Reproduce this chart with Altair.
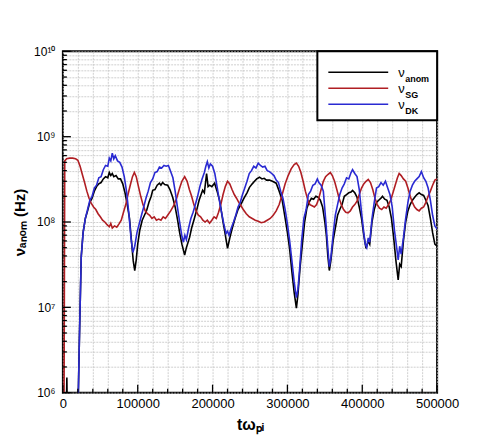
import altair as alt
import pandas as pd

FONT = "Liberation Sans"

# (t*omega_pi, nu) readings for each series
ANOM = [
    (4500, 5e5), (5300, 1.5e6), (6000, 5e5), (20000, 5e5), (22000, 4e6), (24500, 3.9e7),
    (27000, 7.5e7), (30000, 1.1e8), (33000, 1.35e8), (36000, 1.7e8), (39000, 1.9e8),
    (42000, 2.3e8), (45000, 2.6e8), (48000, 2.8e8), (51000, 2.9e8), (54000, 3.2e8),
    (57000, 3.4e8), (60000, 3.3e8), (62000, 3.8e8), (64000, 3.5e8), (66000, 3.7e8),
    (68000, 3.4e8), (71000, 3.5e8), (74000, 3.2e8), (77000, 3.2e8), (80000, 2.8e8),
    (83000, 2.2e8), (86000, 1.6e8), (89000, 1.1e8), (92000, 5.5e7), (94000, 3.5e7),
    (96000, 2.7e7), (98000, 3.6e7), (100000, 5.5e7), (102700, 8.0e7), (106000, 1.05e8),
    (109000, 1.2e8), (112000, 1.37e8), (115000, 1.7e8), (118000, 2.0e8), (120000, 2.35e8),
    (123000, 2.4e8), (126000, 2.7e8), (129000, 2.85e8), (131000, 2.7e8), (133300, 2.9e8),
    (136000, 2.75e8), (140000, 2.7e8), (143000, 2.4e8), (146700, 1.95e8), (150000, 1.5e8),
    (153300, 1.05e8), (156000, 7.5e7), (159000, 5.5e7), (162700, 4.1e7), (165000, 5.0e7),
    (169300, 6.6e7), (172000, 8.5e7), (175000, 1.05e8), (178700, 1.37e8), (182000, 1.8e8),
    (186700, 2.35e8), (189000, 2.2e8), (192000, 3.7e8), (194000, 2.6e8), (196000, 2.7e8),
    (199000, 2.6e8), (202700, 2.85e8), (206000, 2.3e8), (209300, 1.8e8), (212000, 1.3e8),
    (214000, 1.0e8), (216000, 8.0e7), (220000, 4.9e7), (223000, 6.5e7), (226700, 8.7e7),
    (230000, 1.1e8), (234000, 1.4e8), (238700, 1.66e8), (242000, 1.9e8), (246000, 2.2e8),
    (249300, 2.55e8), (253000, 2.8e8), (256000, 3.0e8), (259000, 3.2e8), (262700, 3.35e8),
    (266000, 3.2e8), (269000, 3.25e8), (272000, 3.1e8), (276000, 3.1e8), (280000, 3.0e8),
    (285000, 2.85e8), (289000, 2.3e8), (293000, 1.8e8), (297000, 1.1e8), (300000, 7.5e7),
    (303000, 4.8e7), (306000, 2.6e7), (309000, 1.5e7), (312000, 9.8e6), (314000, 1.4e7),
    (317000, 3.0e7), (320000, 5.5e7), (323000, 1.0e8), (326000, 1.45e8), (329000, 1.7e8),
    (332000, 1.9e8), (335000, 1.85e8), (338000, 2.0e8), (341000, 1.95e8), (344000, 1.8e8),
    (347000, 1.5e8), (350000, 1.0e8), (352000, 7.0e7), (354000, 4.0e7), (356000, 2.7e7),
    (358000, 3.5e7), (361000, 6.0e7), (364000, 8.5e7), (367000, 1.2e8), (370000, 1.4e8),
    (373000, 1.6e8), (376000, 2.0e8), (379000, 2.1e8), (382000, 2.2e8), (385000, 2.25e8),
    (387000, 2.35e8), (390000, 2.2e8), (393000, 1.95e8), (396000, 1.5e8), (399000, 1.1e8),
    (402000, 7.0e7), (405000, 4.9e7), (408000, 6.0e7), (410000, 5.5e7), (413000, 1.0e8),
    (416000, 1.4e8), (419000, 1.7e8), (422000, 1.8e8), (425000, 1.9e8), (427000, 2.0e8),
    (430000, 1.85e8), (433000, 1.8e8), (436000, 1.5e8), (439000, 1.1e8), (442000, 6.5e7),
    (445000, 3.5e7), (448000, 2.1e7), (450000, 3.2e7), (452000, 3.0e7), (455000, 6.0e7),
    (458000, 1.0e8), (461000, 1.35e8), (464000, 1.6e8), (467000, 1.8e8), (470000, 1.95e8),
    (473000, 2.1e8), (476000, 2.2e8), (479000, 2.1e8), (482000, 2.05e8), (485000, 1.8e8),
    (488000, 1.55e8), (491000, 1.1e8), (494000, 7.5e7), (497000, 5.5e7), (500000, 5.2e7),
]

SG = [
    (1500, 5e5), (2500, 5.2e8), (5000, 5.5e8), (9000, 5.6e8), (13000, 5.6e8), (17000, 5.5e8),
    (20000, 5.3e8), (23000, 4.5e8), (26000, 3.6e8), (29000, 2.9e8), (32000, 2.3e8),
    (35000, 1.9e8), (38000, 1.65e8), (41000, 1.5e8), (44000, 1.4e8), (47000, 1.25e8),
    (50000, 1.15e8), (53000, 1.05e8), (56000, 1.0e8), (59000, 9.3e7), (62000, 8.8e7),
    (64000, 9.6e7), (66000, 8.5e7), (69000, 9.0e7), (72000, 8.7e7), (75000, 9.5e7),
    (78000, 1.05e8), (81000, 1.3e8), (84000, 1.6e8), (87000, 2.1e8), (90000, 2.7e8),
    (93000, 3.4e8), (95500, 3.8e8), (98000, 3.4e8), (101000, 2.6e8), (104000, 2.0e8),
    (107000, 1.6e8), (110000, 1.35e8), (113000, 1.25e8), (116000, 1.2e8), (119000, 1.1e8),
    (122000, 1.15e8), (125000, 1.05e8), (128000, 1.08e8), (131000, 1.05e8), (134000, 1.15e8),
    (137000, 1.1e8), (140000, 1.2e8), (144000, 1.35e8), (148000, 1.55e8), (152000, 1.9e8),
    (156000, 2.5e8), (159000, 3.0e8), (162700, 3.4e8), (166000, 3.0e8), (169000, 2.4e8),
    (172000, 2.0e8), (175000, 1.6e8), (178000, 1.35e8), (181000, 1.2e8), (184000, 1.15e8),
    (187000, 1.05e8), (190000, 1.0e8), (193000, 1.05e8), (196000, 9.7e7), (199000, 1.05e8),
    (202000, 1.15e8), (205000, 1.1e8), (208000, 1.3e8), (211000, 1.6e8), (214000, 2.1e8),
    (217000, 2.6e8), (220000, 3.0e8), (223000, 2.8e8), (226000, 2.4e8), (229000, 2.1e8),
    (232000, 1.9e8), (235000, 1.7e8), (238000, 1.55e8), (241000, 1.4e8), (245000, 1.25e8),
    (249000, 1.15e8), (253000, 1.1e8), (257000, 1.05e8), (261000, 1.02e8), (265000, 9.8e7),
    (269000, 1.0e8), (273000, 1.05e8), (277000, 1.1e8), (281000, 1.2e8), (285000, 1.35e8),
    (289000, 1.6e8), (293000, 2.1e8), (297000, 2.8e8), (301000, 3.5e8), (305000, 4.2e8),
    (309000, 4.7e8), (312000, 4.9e8), (315000, 4.5e8), (318000, 3.8e8), (321000, 3.0e8),
    (324000, 2.3e8), (327000, 1.85e8), (330000, 1.6e8), (333000, 1.55e8), (336000, 1.5e8),
    (339000, 1.6e8), (342000, 1.9e8), (345000, 2.4e8), (348000, 3.0e8), (351000, 3.4e8),
    (354000, 3.6e8), (357300, 3.8e8), (360000, 3.5e8), (363000, 3.0e8), (366000, 2.4e8),
    (369000, 1.9e8), (372000, 1.6e8), (375000, 1.4e8), (378000, 1.3e8), (381000, 1.28e8),
    (384000, 1.35e8), (387000, 1.5e8), (390000, 1.6e8), (393000, 1.75e8), (396000, 2.1e8),
    (399000, 2.5e8), (402000, 2.8e8), (405000, 3.0e8), (408000, 3.15e8), (411000, 2.9e8),
    (414000, 2.4e8), (417000, 1.9e8), (420000, 1.6e8), (423000, 1.45e8), (426000, 1.4e8),
    (429000, 1.5e8), (432000, 1.45e8), (435000, 1.6e8), (438000, 1.8e8), (441000, 2.2e8),
    (444000, 2.7e8), (447000, 3.3e8), (449300, 3.7e8), (452000, 3.5e8), (455000, 3.2e8),
    (458000, 3.0e8), (461000, 2.5e8), (464000, 2.0e8), (467000, 1.7e8), (470000, 1.5e8),
    (473000, 1.4e8), (476000, 1.35e8), (479000, 1.45e8), (482000, 1.5e8), (485000, 1.7e8),
    (488000, 2.0e8), (491000, 2.3e8), (494000, 2.7e8), (497000, 3.1e8), (500000, 3.2e8),
]

DK = [
    (20000, 5e5), (22000, 4e6), (24500, 3.9e7), (27000, 7.5e7), (30000, 1.1e8), (33000, 1.4e8),
    (36000, 1.8e8), (39000, 2.0e8), (42000, 2.5e8), (45000, 2.7e8), (48000, 3.3e8),
    (51000, 3.4e8), (54000, 4.1e8), (57000, 4.6e8), (60000, 4.5e8), (62000, 5.6e8),
    (64000, 5.2e8), (66000, 6.4e8), (68000, 5.5e8), (70000, 6.0e8), (73000, 5.2e8),
    (76000, 5.0e8), (79000, 4.4e8), (82000, 3.4e8), (85000, 2.3e8), (88000, 1.3e8),
    (91000, 6.5e7), (93500, 4.4e7), (96000, 5.2e7), (99000, 7.5e7), (102000, 9.5e7),
    (105000, 1.2e8), (108000, 1.5e8), (111000, 1.9e8), (114000, 2.3e8), (117000, 2.9e8),
    (120000, 3.2e8), (123000, 3.8e8), (126000, 3.9e8), (129000, 4.4e8), (132000, 4.3e8),
    (135000, 4.6e8), (138000, 4.5e8), (141000, 4.6e8), (144000, 3.9e8), (147000, 3.3e8),
    (150000, 2.3e8), (153000, 1.5e8), (156000, 1.0e8), (159000, 6.8e7), (161000, 5.8e7),
    (163000, 7.0e7), (165000, 6.2e7), (168000, 8.5e7), (171000, 1.1e8), (174000, 1.3e8),
    (177000, 1.6e8), (180000, 2.0e8), (183000, 2.6e8), (186000, 3.2e8), (189000, 3.8e8),
    (191000, 4.5e8), (193000, 5.1e8), (195000, 4.3e8), (197000, 4.8e8), (200000, 4.5e8),
    (203000, 3.7e8), (206000, 2.6e8), (209000, 1.8e8), (212000, 1.3e8), (215000, 9.5e7),
    (218000, 7.3e7), (220000, 7.8e7), (222000, 7.0e7), (225000, 8.5e7), (228000, 1.0e8),
    (231000, 1.2e8), (234000, 1.5e8), (237000, 1.7e8), (240000, 2.1e8), (243000, 2.5e8),
    (246000, 3.0e8), (249000, 3.7e8), (252000, 4.0e8), (255000, 4.5e8), (258000, 4.3e8),
    (261000, 4.9e8), (264000, 4.6e8), (267000, 4.4e8), (270000, 4.5e8), (273000, 4.0e8),
    (276000, 3.9e8), (279000, 3.7e8), (282000, 3.5e8), (285000, 3.1e8), (288000, 2.9e8),
    (291000, 2.3e8), (294000, 1.9e8), (297000, 1.4e8), (300000, 9.5e7), (303000, 6.0e7),
    (306000, 3.5e7), (309000, 2.0e7), (312000, 1.3e7), (314000, 1.6e7), (316000, 2.6e7),
    (319000, 6.0e7), (322000, 1.1e8), (325000, 1.4e8), (328000, 2.1e8), (331000, 2.3e8),
    (334000, 2.7e8), (337000, 2.8e8), (340000, 3.2e8), (342000, 2.9e8), (345000, 2.7e8),
    (348000, 2.3e8), (351000, 1.1e8), (354000, 5.0e7), (356000, 3.0e7), (358000, 3.8e7),
    (361000, 7.0e7), (364000, 1.2e8), (367000, 1.6e8), (370000, 2.1e8), (373000, 2.5e8),
    (376000, 2.8e8), (379000, 3.3e8), (382000, 3.2e8), (385000, 3.8e8), (387000, 4.1e8),
    (390000, 3.7e8), (393000, 3.4e8), (396000, 2.4e8), (399000, 1.3e8), (402000, 7.5e7),
    (404000, 5.5e7), (406000, 5.0e7), (408000, 6.5e7), (410000, 5.8e7), (413000, 1.1e8),
    (416000, 1.7e8), (419000, 2.5e8), (422000, 2.6e8), (425000, 2.9e8), (428000, 2.7e8),
    (431000, 3.0e8), (434000, 2.5e8), (437000, 2.1e8), (440000, 1.5e8), (443000, 8.0e7),
    (446000, 5.0e7), (448000, 3.6e7), (450000, 5.2e7), (452000, 4.2e7), (455000, 6.5e7),
    (458000, 1.1e8), (461000, 1.7e8), (464000, 2.3e8), (467000, 2.7e8), (470000, 3.0e8),
    (473000, 3.2e8), (476000, 3.4e8), (479000, 3.9e8), (482000, 3.3e8), (485000, 3.0e8),
    (488000, 2.5e8), (491000, 1.8e8), (494000, 1.2e8), (497000, 9.0e7), (500000, 8.3e7),
]

SERIES = [("anom", ANOM, "#000000"), ("SG", SG, "#b01e23"), ("DK", DK, "#2a2ad2")]

X_MAJOR = [0, 100000, 200000, 300000, 400000, 500000]
X_GRID = list(range(0, 500001, 20000))
X_MINOR = [t for t in X_GRID if t not in X_MAJOR]
Y_MAJOR = [1e6, 1e7, 1e8, 1e9, 1e10]
Y_LABELS = ["10⁶", "10⁷", "10⁸", "10⁹", "10¹⁰"]
Y_GRID = [float(k * 10 ** d) for d in range(6, 10) for k in range(1, 10)] + [1e10]
Y_MINOR = [v for v in Y_GRID if v not in Y_MAJOR]

W, H = 375, 342

xs = alt.Scale(domain=[0, 500000], nice=False, zero=False)
ys = alt.Scale(type="log", domain=[1e6, 1e10], nice=False)

ylab_expr = "".join(f"datum.value == {v:.0f} ? '{s}' : " for v, s in zip(Y_MAJOR, Y_LABELS)) + "''"
xlab_expr = "datum.value % 100000 === 0 ? format(datum.value, 'd') : ''"

xaxis = alt.Axis(values=X_GRID, grid=True, ticks=False, domain=False, labelExpr=xlab_expr,
                 labelFlush=False, labelOverlap=False, labelBound=False, labelPadding=5,
                 labelFontSize=13, labelColor="black", title="tωₚᵢ", titleFontSize=16,
                 titleFontWeight="bold", titleColor="black", titlePadding=6)
yaxis = alt.Axis(values=Y_GRID, grid=True, ticks=False, domain=False, labelExpr=ylab_expr,
                 labelFlush=False, labelOverlap=False, labelBound=False, labelPadding=8,
                 labelFontSize=12, labelColor="black", title="νₐₙₒₘ (Hz)", titleFontSize=15,
                 titleFontWeight="bold", titleColor="black", titlePadding=6)

layers = []
for name, pts, color in SERIES:
    df = pd.DataFrame(pts, columns=["t", "v"])
    layers.append(
        alt.Chart(df).mark_line(color=color, strokeWidth=1.6, clip=True).encode(
            x=alt.X("t:Q", scale=xs, axis=xaxis),
            y=alt.Y("v:Q", scale=ys, axis=yaxis),
        )
    )

# inward ticks
for vals, ln in [(X_MAJOR, 8), (X_MINOR, 4)]:
    layers.append(
        alt.Chart(pd.DataFrame({"t": vals})).mark_rule(color="black", strokeWidth=1.3).encode(
            x=alt.X("t:Q", scale=xs, axis=xaxis), y=alt.value(H), y2=alt.value(H - ln)
        )
    )
for vals, ln in [(Y_MAJOR, 8), (Y_MINOR, 4)]:
    layers.append(
        alt.Chart(pd.DataFrame({"v": vals})).mark_rule(color="black", strokeWidth=1.3).encode(
            y=alt.Y("v:Q", scale=ys, axis=yaxis), x=alt.value(0), x2=alt.value(ln)
        )
    )

# legend box
one = pd.DataFrame({"k": [0]})
layers.append(
    alt.Chart(one).mark_rect(fill="white", stroke="black", strokeWidth=2).encode(
        x=alt.value(255), x2=alt.value(W), y=alt.value(0), y2=alt.value(69)
    )
)
for i, (name, _, color) in enumerate(SERIES):
    ly = 21 + 16 * i
    layers.append(
        alt.Chart(one).mark_rule(color=color, strokeWidth=1.6).encode(
            x=alt.value(266), x2=alt.value(326), y=alt.value(ly)
        )
    )
    layers.append(
        alt.Chart(one).mark_text(text="ν", align="left", baseline="alphabetic", fontSize=13,
                                 font=FONT, color="black").encode(
            x=alt.value(336), y=alt.value(ly + 5)
        )
    )
    layers.append(
        alt.Chart(one).mark_text(text=name, align="left", baseline="alphabetic", fontSize=9,
                                 fontWeight="bold", font=FONT, color="black").encode(
            x=alt.value(343), y=alt.value(ly + 10)
        )
    )

chart = (
    alt.layer(*layers)
    .properties(
        width=W, height=H,
        padding={"left": 55, "top": 43, "right": 50, "bottom": 45},
        autosize=alt.AutoSizeParams(type="none"),
    )
    .configure(font=FONT)
    .configure_view(stroke="black", strokeWidth=2)
    .configure_axis(gridColor="#c4c4c4", gridDash=[2, 1], gridWidth=0.8, labelFont=FONT, titleFont=FONT)
)

chart.save("out.html", embed_options={"renderer": "svg", "actions": False})
